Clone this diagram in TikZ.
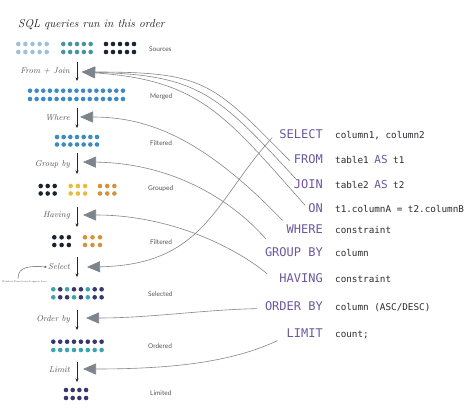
\documentclass[tikz,border=0pt]{standalone}
\usepackage{fontspec}
\usetikzlibrary{arrows.meta}
\newfontfamily\monofont{DejaVu Sans Mono}
\newfontfamily\labfont{Lato}
\definecolor{kwpurple}{RGB}{108,88,158}
\definecolor{valdark}{RGB}{45,45,50}
\definecolor{labgray}{RGB}{85,85,85}
\definecolor{conngray}{RGB}{135,135,135}
\definecolor{tipgray}{RGB}{125,132,140}
\definecolor{dlight}{RGB}{160,195,212}
\definecolor{dteal}{RGB}{70,150,155}
\definecolor{dnavy}{RGB}{25,35,50}
\definecolor{dblue}{RGB}{60,140,195}
\definecolor{dyellow}{RGB}{230,190,60}
\definecolor{dorange}{RGB}{215,145,60}
\definecolor{dindigo}{RGB}{55,55,110}
\definecolor{dteal2}{RGB}{60,165,170}
\tikzset{
  kw/.style={inner sep=0pt, text=kwpurple, font=\monofont\fontsize{12}{14}\selectfont},
  val/.style={inner sep=0pt, text=valdark, font=\monofont\fontsize{9.3}{11}\selectfont},
  stagelab/.style={inner sep=0pt, text=labgray, font=\itshape\fontsize{8.5}{10}\selectfont},
  reslab/.style={inner sep=0pt, text=labgray, font=\labfont\fontsize{6.5}{8}\selectfont},
  stagearrow/.style={line width=0.6pt, draw=black!85, -{Stealth[length=3.5pt,width=3pt]}},
  conn/.style={line width=0.6pt, draw=conngray, -{Triangle[length=13pt,width=11pt,color=tipgray,fill=tipgray]}},
}
\begin{document}
\begin{tikzpicture}[x=1pt,y=-1pt]
\useasboundingbox (0,0) rectangle (474,414);
\fill[white] (0,0) rectangle (474,414);

% title
\node[anchor=west, inner sep=0pt, text=black!90, font=\itshape\fontsize{11.5}{13}\selectfont] (title) at (18,25) {SQL queries run in this order};

% ---------- dots ----------
% Sources
\foreach \r in {44,52} {
  \foreach \i in {0,...,4} {
    \fill[dlight] (18.3+7.1*\i,\r) circle (2.3pt);
    \fill[dteal] (63.3+6.85*\i,\r) circle (2.3pt);
    \fill[dnavy] (106+7*\i,\r) circle (2.3pt);
  }
}
% Merged
\foreach \r in {90.7,99} {
  \foreach \i in {0,...,14} {
    \fill[dblue] (30+6.64*\i,\r) circle (2.3pt);
  }
}
% Filtered 1
\foreach \r in {137,144.5} {
  \foreach \i in {0,...,6} {
    \fill[dblue] (57+6.67*\i,\r) circle (2.3pt);
  }
}
% Grouped
\foreach \r in {186,193.5} {
  \foreach \i in {0,...,2} {
    \fill[dnavy] (40.7+7*\i,\r) circle (2.3pt);
    \fill[dyellow] (70.7+7.2*\i,\r) circle (2.3pt);
    \fill[dorange] (100+7.2*\i,\r) circle (2.3pt);
  }
}
% Filtered 2
\foreach \r in {237.3,245} {
  \foreach \i in {0,...,2} {
    \fill[dnavy] (54.3+7.3*\i,\r) circle (2.3pt);
    \fill[dorange] (85+7.5*\i,\r) circle (2.3pt);
  }
}
% Selected
\foreach \c [count=\i from 0] in {dteal2,dindigo,dteal2,dindigo,dindigo,dteal2,dindigo,dindigo} {
  \fill[\c] (53.3+6.9*\i,289.3) circle (2.3pt);
}
\foreach \c [count=\i from 0] in {dteal2,dindigo,dindigo,dteal2,dindigo,dteal2,dindigo,dindigo} {
  \fill[\c] (53.3+6.9*\i,297.3) circle (2.3pt);
}
% Ordered
\foreach \i in {0,...,7} {
  \fill[dindigo] (53.3+6.9*\i,341.7) circle (2.3pt);
  \fill[dteal2] (53.3+6.9*\i,350) circle (2.3pt);
}
% Limited
\foreach \r in {390,398} {
  \foreach \i in {0,...,3} {
    \fill[dindigo] (66+6.7*\i,\r) circle (2.3pt);
  }
}

% ---------- result labels ----------
\node[reslab, anchor=west] (rSources) at (149,49) {Sources};
\node[reslab, anchor=west] (rMerged) at (150,96.7) {Merged};
\node[reslab, anchor=west] (rFilt1) at (150,143.3) {Filtered};
\node[reslab, anchor=west] (rGrouped) at (148,189) {Grouped};
\node[reslab, anchor=west] (rFilt2) at (150,241.7) {Filtered};
\node[reslab, anchor=west] (rSelected) at (148,294.3) {Selected};
\node[reslab, anchor=west] (rOrdered) at (148,346) {Ordered};
\node[reslab, anchor=west] (rLimited) at (150,393.3) {Limited};

% ---------- stage labels ----------
\node[stagelab, anchor=east] (lFrom) at (70,71) {From + Join};
\node[stagelab, anchor=east] (lWhere) at (70,118) {Where};
\node[stagelab, anchor=east] (lGroup) at (70,164) {Group by};
\node[stagelab, anchor=east] (lHaving) at (70,215) {Having};
\node[stagelab, anchor=east] (lSelect) at (70,267) {Select};
\node[stagelab, anchor=east] (lOrder) at (70,319) {Order by};
\node[stagelab, anchor=east] (lLimit) at (70,370) {Limit};

% vertical stage arrows
\coordinate (a1t) at (77,62);  \coordinate (a1b) at (77,81);
\coordinate (a2t) at (77,108); \coordinate (a2b) at (77,128);
\coordinate (a3t) at (77,153); \coordinate (a3b) at (77,174);
\coordinate (a4t) at (77,207); \coordinate (a4b) at (77,227);
\coordinate (a5t) at (77,257); \coordinate (a5b) at (77,277);
\coordinate (a6t) at (77,310); \coordinate (a6b) at (77,330);
\coordinate (a7t) at (77,362); \coordinate (a7b) at (77,382);
\foreach \k in {1,...,7} { \draw[stagearrow] (a\k t) -- (a\k b); }

% note near Select
\node[inner sep=0pt, anchor=west, text=labgray, font=\fontsize{2.4}{3}\selectfont] (note) at (1.5,281.5) {Window Functions happen here};
\draw[line width=0.4pt, draw=black!70, -{Stealth[length=2.5pt,width=2pt]}] (18,278.5) .. controls (18,266) and (30,266) .. ([xshift=-1pt]lSelect.west);

% ---------- SQL text ----------
\node[kw, anchor=base east] (kSelect) at (323,139) {SELECT};
\node[kw, anchor=base east] (kFrom) at (323,164) {FROM};
\node[kw, anchor=base east] (kJoin) at (323,189) {JOIN};
\node[kw, anchor=base east] (kOn) at (323,212.7) {ON};
\node[kw, anchor=base east] (kWhere) at (323,233.3) {WHERE};
\node[kw, anchor=base east] (kGroup) at (323,257) {GROUP BY};
\node[kw, anchor=base east] (kHaving) at (323,282) {HAVING};
\node[kw, anchor=base east] (kOrder) at (323,310) {ORDER BY};
\node[kw, anchor=base east] (kLimit) at (323,337) {LIMIT};

\node[val, anchor=base west] (vSelect) at (335,139) {column1, column2};
\node[val, anchor=base west] (vFrom) at (335,164) {table1 {\color{kwpurple}\fontsize{11}{12}\selectfont AS} t1};
\node[val, anchor=base west] (vJoin) at (335,189) {table2 {\color{kwpurple}\fontsize{11}{12}\selectfont AS} t2};
\node[val, anchor=base west] (vOn) at (335,212.7) {t1.columnA = t2.columnB};
\node[val, anchor=base west] (vWhere) at (335,233.3) {constraint};
\node[val, anchor=base west] (vGroup) at (335,257) {column};
\node[val, anchor=base west] (vHaving) at (335,282) {constraint};
\node[val, anchor=base west] (vOrder) at (335,310) {column (ASC/DESC)};
\node[val, anchor=base west] (vLimit) at (335,337) {count;};

% ---------- connectors ----------
\coordinate (tFrom) at (82,72);
\coordinate (tWhere) at (80,117);
\coordinate (tGroup) at (83,162);
\coordinate (tHaving) at (83,215);
\coordinate (tSelect) at (87,267);
\coordinate (tOrder) at (86,318);
\coordinate (tLimit) at (83,369);

\draw[conn] ([shift={(-4,1)}]kFrom.west) .. controls (212,82) and (205,72) .. (tFrom);
\draw[conn] ([shift={(2,-6)}]kJoin.west) .. controls (218,95) and (200,75) .. (tFrom);
\draw[conn] ([shift={(-3,-3)}]kOn.west) .. controls (225,115) and (200,80) .. (tFrom);
\draw[conn] ([shift={(-4,-4)}]kWhere.north west) .. controls (205,140) and (150,117) .. (tWhere);
\draw[conn] ([shift={(1,-9)}]kGroup.north west) .. controls (230,198) and (170,163) .. (tGroup);
\draw[conn] ([shift={(-12,1)}]kHaving.north west) .. controls (235,247) and (170,215) .. (tHaving);
\draw[conn] ([shift={(-7,3)}]kSelect.west) .. controls (215,200) and (205,265) .. (tSelect);
\draw[conn] ([shift={(-8,3)}]kOrder.west) .. controls (200,310) and (150,318) .. (tOrder);
\draw[conn] ([shift={(-9,8)}]kLimit.west) .. controls (240,358) and (190,369) .. (tLimit);
\end{tikzpicture}
\end{document}
